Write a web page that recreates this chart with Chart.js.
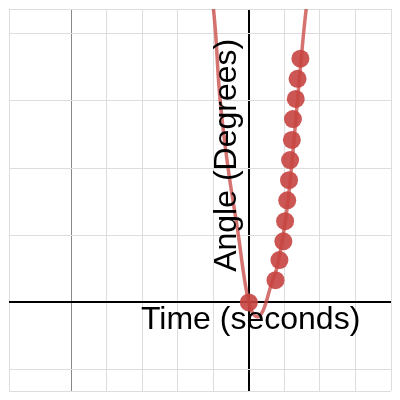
<!DOCTYPE html><html><head><style>html,body{margin:0;padding:0;background:#fff;overflow:hidden}#w{width:400px;height:400px}</style>
<script src="https://cdn.jsdelivr.net/npm/chart.js@4"></script></head><body><div id="w"><canvas id="c"></canvas></div><script>
const pointX=[0,0.75,0.86,0.97,1.02,1.08,1.13,1.16,1.21,1.24,1.32,1.37,1.45];
const pointY=[0,0.33,0.63,0.91,1.21,1.52,1.82,2.12,2.42,2.73,3.03,3.33,3.63];
const curveX=[-1.02,-0.94,-0.81,-0.59,-0.30,-0.14,0,0.12,0.27,0.4,0.5,0.62,0.78,0.95,1.1,1.25,1.4,1.52,1.62,1.7];
const curveY=[4.5,4.04,3.02,2.02,1.02,0.4,0,-0.17,-0.21,-0.12,0.03,0.25,0.5,0.95,1.5,2.3,3.2,3.9,4.4,4.7];
const xLabel="Time (seconds)", yLabel="Angle (Degrees)";
const red='rgba(199,68,64,0.9)';
const gridColor=c=>{const v=c.tick&&c.tick.value;if(v===0)return '#000';if(v%5===0)return '#888';return '#ddd';};
const gridWidth=c=>(c.tick&&c.tick.value===0)?2:1;
const labels={id:'labels',afterDatasetsDraw(ch){const {ctx,scales:{x,y}}=ch;ctx.save();ctx.fillStyle='#000';ctx.font='32px "Liberation Sans", Arial';ctx.textAlign='center';ctx.textBaseline='middle';
ctx.fillText(xLabel,x.getPixelForValue(0.05),y.getPixelForValue(-0.27));
ctx.translate(x.getPixelForValue(-0.6),y.getPixelForValue(2.19));ctx.rotate(-Math.PI/2);ctx.fillText(yLabel,0,0);ctx.restore();}};
new Chart(document.getElementById('c'),{type:'scatter',data:{datasets:[
{type:'line',data:curveX.map((v,i)=>({x:v,y:curveY[i]})),borderColor:'rgba(199,68,64,0.75)',borderWidth:3.5,pointRadius:0,tension:0.4,fill:false},
{data:pointX.map((v,i)=>({x:v,y:pointY[i]})),backgroundColor:red,borderColor:red,pointRadius:9,pointBorderWidth:0}]},
options:{responsive:true,maintainAspectRatio:false,animation:false,layout:{padding:0},plugins:{legend:{display:false},tooltip:{enabled:false}},
scales:{x:{type:'linear',min:-6.75,max:4.0,afterFit:s=>{s.height=0;s.paddingLeft=0;s.paddingRight=0;},ticks:{display:false,stepSize:1,padding:0},border:{display:false},grid:{color:gridColor,lineWidth:gridWidth,drawTicks:false}},
y:{type:'linear',min:-1.32,max:4.37,afterFit:s=>{s.width=0;s.paddingTop=0;s.paddingBottom=0;},ticks:{display:false,stepSize:1,padding:0},border:{display:false},grid:{color:gridColor,lineWidth:gridWidth,drawTicks:false}}}},plugins:[labels]});
</script></body></html>
